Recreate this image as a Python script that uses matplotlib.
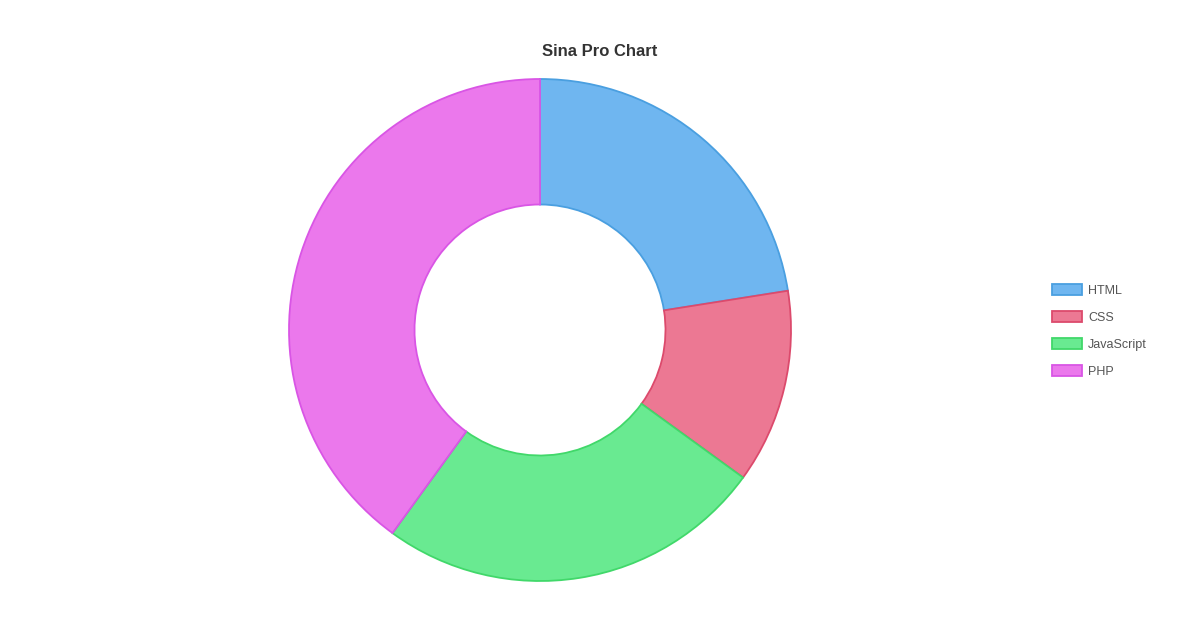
import matplotlib
matplotlib.use("Agg")
import matplotlib.pyplot as plt
from matplotlib.patches import Patch

plt.rcParams['font.family'] = ['Liberation Sans', 'DejaVu Sans']

labels = ["HTML", "CSS", "JavaScript", "PHP"]
values = [45, 25, 50, 80]
fill_colors = ["#6fb6f0", "#ec7893", "#69ea91", "#eb78ec"]
edge_colors = ["#4a9fe0", "#dc4a6c", "#41d86a", "#d955e5"]

W, H = 1193, 628
fig = plt.figure(figsize=(W / 100, H / 100), dpi=100)

# doughnut centred at (540, 330) px, outer radius 250 px
cx, cy, r = 540, 330, 251
ax = fig.add_axes([(cx - r) / W, (H - cy - r) / H, 2 * r / W, 2 * r / H])
wedges, _ = ax.pie(values, startangle=90, counterclock=False, radius=1,
                   colors=fill_colors,
                   wedgeprops=dict(width=0.5, linewidth=1.3))
for w, ec in zip(wedges, edge_colors):
    w.set_edgecolor(ec)
ax.set_xlim(-1.0, 1.0)
ax.set_ylim(-1.0, 1.0)
ax.set_aspect("equal")
ax.axis("off")

fig.text(0.503, 1 - 51 / H, "Sina Pro Chart", ha="center", va="center",
         fontsize=12, fontweight="bold", color="#333333")

handles = [Patch(facecolor=f, edgecolor=e, linewidth=1.3, label=l)
           for f, e, l in zip(fill_colors, edge_colors, labels)]
fig.legend(handles=handles, loc="upper left",
           bbox_to_anchor=(1052 / W, 1 - 284 / H), frameon=False,
           fontsize=9, handlelength=2.4, handleheight=0.95,
           handletextpad=0.5, labelspacing=1.15, labelcolor="#555555",
           borderpad=0, borderaxespad=0)

fig.savefig("out.png", dpi=100)
